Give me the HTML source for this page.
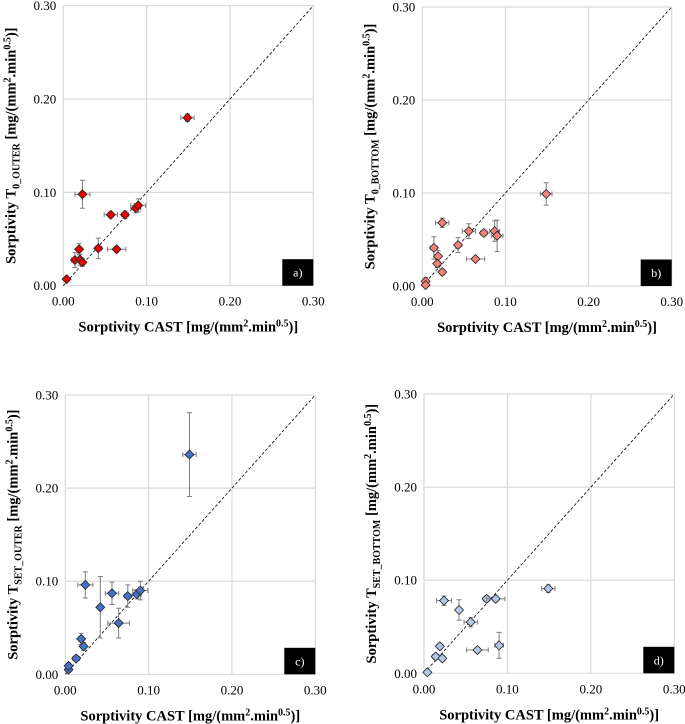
<!DOCTYPE html>
<html><head><meta charset="utf-8">
<style>
body{margin:0;background:#fff;}
svg{display:block;font-family:"Liberation Serif",serif;}
</style></head>
<body>
<svg id="fig" width="685" height="724" viewBox="0 0 685 724"></svg>
<script>
const ticks=[0,0.1,0.2,0.3];
const tickLabels=["0.00","0.10","0.20","0.30"];
// Panel a
const xA=[0.004,0.014,0.019,0.020,0.023,0.023,0.042,0.057,0.064,0.074,0.087,0.090,0.149];
const yA=[0.007,0.0275,0.039,0.028,0.025,0.098,0.040,0.076,0.039,0.076,0.083,0.086,0.180];
const xeA=[0.002,0.004,0.003,0.004,0.003,0.009,0.004,0.008,0.011,0.004,0.006,0.009,0.008];
const yeA=[0.002,0.008,0.006,0.006,0.004,0.015,0.011,0.003,0.003,0.004,0.005,0.007,0.004];
// Panel b
const xB=[0.004,0.004,0.014,0.019,0.018,0.024,0.024,0.043,0.056,0.064,0.074,0.087,0.090,0.149];
const yB=[0.005,0.001,0.041,0.032,0.024,0.015,0.068,0.044,0.059,0.029,0.057,0.059,0.054,0.099];
const xeB=[0.002,0.002,0.004,0.003,0.003,0.003,0.008,0.003,0.008,0.011,0.004,0.006,0.007,0.007];
const yeB=[0.004,0.002,0.012,0.006,0.004,0.003,0.005,0.008,0.008,0.002,0.003,0.011,0.017,0.012];
// Panel c
const xC=[0.004,0.004,0.013,0.019,0.022,0.024,0.042,0.056,0.064,0.075,0.086,0.090,0.149];
const yC=[0.005,0.009,0.017,0.038,0.030,0.096,0.072,0.087,0.055,0.084,0.086,0.090,0.236];
const xeC=[0.002,0.002,0.004,0.003,0.003,0.009,0.002,0.008,0.013,0.004,0.005,0.009,0.008];
const yeC=[0.002,0.003,0.003,0.006,0.004,0.014,0.033,0.012,0.016,0.012,0.005,0.010,0.045];
// Panel d
const xD=[0.004,0.014,0.019,0.022,0.024,0.042,0.056,0.064,0.075,0.086,0.090,0.149];
const yD=[0.001,0.018,0.029,0.016,0.078,0.068,0.055,0.025,0.080,0.080,0.030,0.091];
const xeD=[0.002,0.004,0.003,0.003,0.009,0.002,0.008,0.013,0.004,0.011,0.005,0.008];
const yeD=[0.002,0.003,0.003,0.003,0.005,0.011,0.005,0.003,0.003,0.003,0.014,0.004];

const NS="http://www.w3.org/2000/svg";
const svg=document.getElementById('fig');
function mk(tag,attrs,parent){const e=document.createElementNS(NS,tag);for(const k in attrs)e.setAttribute(k,attrs[k]);(parent||svg).appendChild(e);return e;}

const panels=[
 {id:'a',x0:63.3,x1:313.3,y0:285.7,y1:5.7,xs:xA,ys:yA,xe:xeA,ye:yeA,fill:'#e60000',sub:'0_OUTER'},
 {id:'b',x0:422.3,x1:671.7,y0:286,y1:7,xs:xB,ys:yB,xe:xeB,ye:yeB,fill:'#f4807a',sub:'0_BOTTOM'},
 {id:'c',x0:65.3,x1:315.3,y0:674.3,y1:395,xs:xC,ys:yC,xe:xeC,ye:yeC,fill:'#4472c4',sub:'SET_OUTER'},
 {id:'d',x0:424,x1:674.3,y0:673.3,y1:394,xs:xD,ys:yD,xe:xeD,ye:yeD,fill:'#b4c7e7',sub:'SET_BOTTOM'}
];

panels.forEach(p=>{
 const g=mk('g',{});
 
 
 const X=v=>p.x0+(p.x1-p.x0)*v/0.3;
 const Y=v=>p.y0+(p.y1-p.y0)*v/0.3;
 ticks.forEach((t,i)=>{
  const gx=mk('line',{x1:X(t),x2:X(t),y1:p.y0,y2:p.y1,stroke:'#d9d9d9','stroke-width':1.2},g);
  
  
  const gy=mk('line',{x1:p.x0,x2:p.x1,y1:Y(t),y2:Y(t),stroke:'#d9d9d9','stroke-width':1.2},g);
  
  
  const tx=mk('text',{x:X(t),y:p.y0+20,'text-anchor':'middle','font-size':13},g);
  tx.textContent=tickLabels[i];
  
  
  const ty=mk('text',{x:p.x0-7,y:Y(t)+4.5,'text-anchor':'end','font-size':13},g);
  ty.textContent=tickLabels[i];
  
  
 });
 const dl=mk('line',{x1:X(0),y1:Y(0),x2:X(0.3),y2:Y(0.3),stroke:'#000','stroke-width':0.8,'stroke-dasharray':'3,2'},g);
 
 
 const bx=mk('rect',{x:X(0.3)-31,y:p.y0-26.5,width:31,height:26.5,fill:'#000'},g);
 
 
 const bt=mk('text',{x:X(0.3)-15.5,y:p.y0-9,'text-anchor':'middle','font-size':12,fill:'#fff'},g);
 bt.textContent=p.id+')';
 
 
 p.xs.forEach((xv,i)=>{
  const yv=p.ys[i],cx=X(xv),cy=Y(yv);
  const ex=(p.x1-p.x0)*p.xe[i]/0.3, ey=(p.y0-p.y1)*p.ye[i]/0.3;
  const eb=mk('path',{d:`M${cx-ex},${cy}H${cx+ex}M${cx-ex},${cy-2.5}V${cy+2.5}M${cx+ex},${cy-2.5}V${cy+2.5}M${cx},${cy-ey}V${cy+ey}M${cx-2.5},${cy-ey}H${cx+2.5}M${cx-2.5},${cy+ey}H${cx+2.5}`,stroke:'#7f7f7f','stroke-width':1,fill:'none'},g);
  
  
  const m=mk('path',{d:`M${cx},${cy-4.5}L${cx+4.5},${cy}L${cx},${cy+4.5}L${cx-4.5},${cy}Z`,fill:p.fill,stroke:'#222','stroke-width':0.8},g);
  
  
 });
 const xt=mk('text',{x:(p.x0+p.x1)/2,y:p.y0+46,'text-anchor':'middle','font-size':14.5,'font-weight':'bold'},g);
 xt.innerHTML='Sorptivity CAST [mg/(mm<tspan dy="-5" font-size="10">2</tspan><tspan dy="5">.min</tspan><tspan dy="-5" font-size="10">0.5</tspan><tspan dy="5">)]</tspan>';
 
 
 const yc=(p.y0+p.y1)/2, yx=p.x0-48;
 const yt=mk('text',{x:yx,y:yc,'text-anchor':'middle','font-size':14.5,'font-weight':'bold',transform:`rotate(-90 ${yx} ${yc})`},g);
 yt.innerHTML='Sorptivity T<tspan dy="4" font-size="10">'+p.sub+'</tspan><tspan dy="-4"> [mg/(mm</tspan><tspan dy="-5" font-size="10">2</tspan><tspan dy="5">.min</tspan><tspan dy="-5" font-size="10">0.5</tspan><tspan dy="5">)]</tspan>';
 
 
});
</script>
</body></html>
